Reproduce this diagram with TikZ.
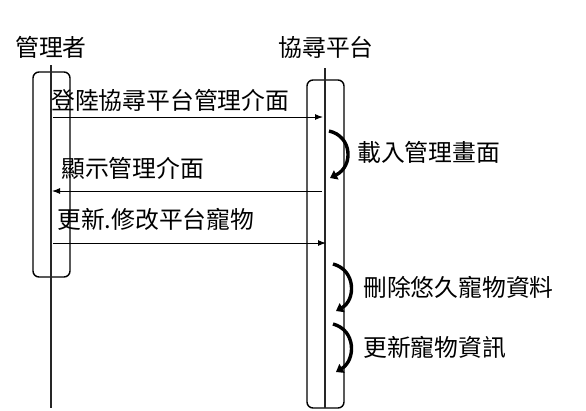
\documentclass[tikz,border=0pt]{standalone}
\usepackage{fontspec}
\newfontfamily\cjk{Noto Sans CJK TC}
\usetikzlibrary{arrows.meta}
\begin{document}
\begin{tikzpicture}[x=1pt,y=-1pt,
  lbl/.style={font=\cjk\fontsize{23.8}{26}\selectfont, inner sep=0pt},
  lifeline/.style={line width=1.1pt, draw=black!85},
  actbox/.style={line width=1.4pt, rounded corners=6pt, draw=black},
  msg/.style={line width=1pt, -{Latex[length=8pt,width=6pt]}},
  selfmsg/.style={line width=3.4pt, -{Triangle[length=7pt,width=10pt]}}]
\useasboundingbox (0,0) rectangle (586,410);
% headers
\node[lbl] (hA) at (51,47) {管理者};
\node[lbl] (hB) at (326,47) {協尋平台};
% lifelines
\coordinate (ltA) at (51,65);
\coordinate (lbA) at (51,408);
\coordinate (ltB) at (325,68);
\coordinate (lbB) at (325,408);
% activation boxes
\draw[actbox] (33,72) rectangle (70,277);
\draw[actbox] (307,80) rectangle (344,408);
\draw[lifeline] (ltA) -- (lbA);
\draw[lifeline] (ltB) -- (lbB);
% messages
\coordinate (m1s) at (53,117);
\coordinate (m1e) at (323,117);
\coordinate (m2s) at (322,191);
\coordinate (m2e) at (52,191);
\coordinate (m3s) at (53,243);
\coordinate (m3e) at (326,243);
\draw[msg] (m1s) -- (m1e);
\draw[msg] (m2s) -- (m2e);
\draw[msg] (m3s) -- (m3e);
\node[lbl, anchor=west] (l1) at (51,100) {登陸協尋平台管理介面};
\node[lbl, anchor=west] (l2) at (61,168) {顯示管理介面};
\node[lbl, anchor=west] (l3) at (57,219) {更新.修改平台寵物};
% self messages
\coordinate (s1s) at (329,131);
\coordinate (s1e) at (330,178);
\coordinate (s2s) at (333,264);
\coordinate (s2e) at (336,311);
\coordinate (s3s) at (333,324);
\coordinate (s3e) at (336,372);
\draw[selfmsg] (s1s) .. controls (352,136) and (354,166) .. (s1e);
\draw[selfmsg] (s2s) .. controls (356,270) and (356,300) .. (s2e);
\draw[selfmsg] (s3s) .. controls (356,330) and (356,360) .. (s3e);
\node[lbl, anchor=west] (t1) at (357,152) {載入管理畫面};
\node[lbl, anchor=west] (t2) at (363,287) {刪除悠久寵物資料};
\node[lbl, anchor=west] (t3) at (363,347) {更新寵物資訊};
\end{tikzpicture}
\end{document}
